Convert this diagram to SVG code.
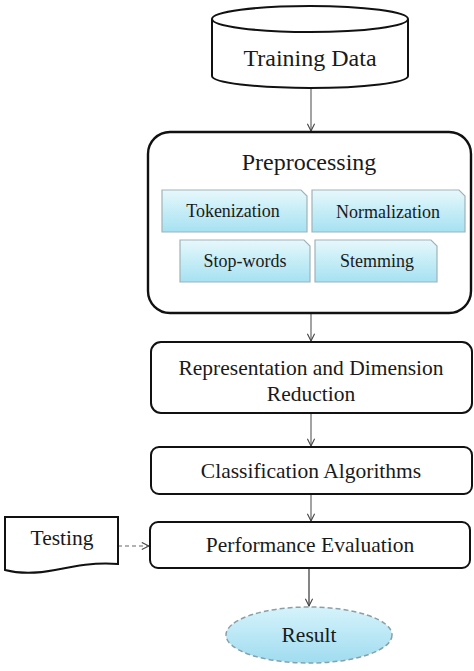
<svg xmlns="http://www.w3.org/2000/svg" width="474" height="671" viewBox="0 0 474 671" font-family="'Liberation Serif', 'Times New Roman', serif">
<defs>
<linearGradient id="cyan" x1="0" y1="0" x2="0" y2="1">
<stop offset="0" stop-color="#e6f8fc"/>
<stop offset="1" stop-color="#a6e1f1"/>
</linearGradient>
<linearGradient id="blue" x1="0" y1="0" x2="0" y2="1">
<stop offset="0" stop-color="#d6f3fb"/>
<stop offset="1" stop-color="#9fdcf0"/>
</linearGradient>
<marker id="arr" viewBox="0 0 10 10" refX="9" refY="5" markerWidth="9" markerHeight="9" orient="auto" markerUnits="userSpaceOnUse">
<path d="M1,1 L9,5 L1,9" fill="none" stroke="#444" stroke-width="1.2"/>
</marker>
</defs>
<style>
text{font-family:"Liberation Serif","Times New Roman",serif;fill:#1a1a1a;text-anchor:middle;dominant-baseline:central}
.box{fill:#fff;stroke:#111;stroke-width:2}
.sub{fill:url(#cyan);stroke:#9fb3b8;stroke-width:1.2}
.conn{stroke:#666;stroke-width:1.2;fill:none;marker-end:url(#arr)}
.big{font-size:24px}
.mid{font-size:21.5px}
.small{font-size:18px}
</style>
<rect width="474" height="671" fill="#fff"/>

<g id="connectors">
<line class="conn" x1="311" y1="89" x2="311" y2="131"/>
<line class="conn" x1="311" y1="314" x2="311" y2="341"/>
<line class="conn" x1="311" y1="414" x2="311" y2="446"/>
<line class="conn" x1="311" y1="495" x2="311" y2="521"/>
<line class="conn" x1="118" y1="546" x2="149" y2="546" stroke-dasharray="4,3"/>
<line class="conn" x1="309" y1="569" x2="309" y2="606" style="stroke:#333"/>
</g>

<g id="training-data">
<path class="box" d="M212,19 L212,76 A98,12 0 0 0 408,76 L408,19"/>
<ellipse class="box" cx="310" cy="19" rx="98" ry="13"/>
<text class="big" x="310" y="58">Training Data</text>
</g>

<g id="preprocessing">
<rect x="148" y="132" width="323" height="181" rx="22" class="box" style="stroke-width:2.4"/>
<text class="big" x="309" y="162">Preprocessing</text>
</g>

<g id="tokenization">
<path class="sub" d="M162,190 L301,190 L307,196 L307,232 L162,232 Z"/>
<text class="small" x="233" y="211">Tokenization</text>
</g>
<g id="normalization">
<path class="sub" d="M312,190 L459,190 L465,196 L465,232 L312,232 Z"/>
<text class="small" x="388" y="212">Normalization</text>
</g>
<g id="stop-words">
<path class="sub" d="M180,240 L304,240 L310,246 L310,282 L180,282 Z"/>
<text class="small" x="245" y="261">Stop-words</text>
</g>
<g id="stemming">
<path class="sub" d="M315,240 L431,240 L437,246 L437,282 L315,282 Z"/>
<text class="small" x="377" y="261">Stemming</text>
</g>

<g id="representation">
<rect x="151" y="342" width="321" height="71" rx="10" class="box"/>
<text class="mid" x="311" y="368">Representation and Dimension</text>
<text class="mid" x="311" y="394">Reduction</text>
</g>

<g id="classification">
<rect x="151" y="447" width="321" height="47" rx="8" class="box"/>
<text class="mid" x="311" y="471">Classification Algorithms</text>
</g>

<g id="testing">
<path class="box" d="M5,517 L118,517 L118,564 C95,562 75,566 55,570 C35,574 20,574 5,570 Z"/>
<text class="mid" x="62" y="538">Testing</text>
</g>

<g id="performance">
<rect x="150" y="522" width="320" height="46" rx="8" class="box"/>
<text class="mid" x="310" y="545">Performance Evaluation</text>
</g>

<g id="result">
<ellipse cx="309" cy="635" rx="83" ry="28" fill="url(#blue)" stroke="#8aa0a8" stroke-width="1.5" stroke-dasharray="5,3"/>
<text class="mid" x="309" y="635">Result</text>
</g>
</svg>
